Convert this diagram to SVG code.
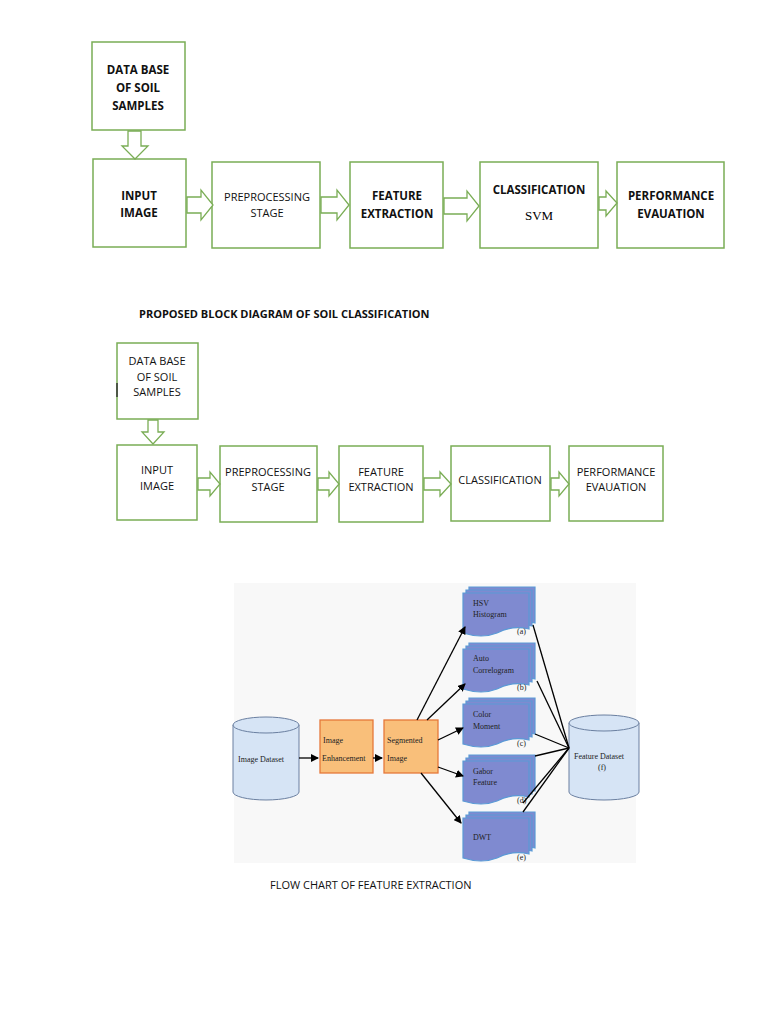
<svg xmlns="http://www.w3.org/2000/svg" width="768" height="1024" viewBox="0 0 768 1024">
<style>
.g{fill:#fff;stroke:#7aad55;stroke-width:1.5}
.ga{fill:#fff;stroke:#7aad55;stroke-width:1.3}
.t{font-family:"Open Sans","Liberation Sans",sans-serif;font-size:11px;fill:#111;text-anchor:middle}
.tb{font-family:"Open Sans","Liberation Sans",sans-serif;font-size:11.5px;font-weight:bold;fill:#111;text-anchor:middle}
.s{font-family:"Liberation Serif",serif;font-size:8px;fill:#222}
.doc{fill:#7f8ad0;stroke:#5a9ad6;stroke-width:1.2}
.cyl{fill:#d6e4f5;stroke:#6a7fa0;stroke-width:1}
.ob{fill:#f9bf7a;stroke:#e5783a;stroke-width:1.3}
.ln{stroke:#000;stroke-width:1.3;fill:none}
</style>
<defs>
<marker id="ah" markerWidth="8" markerHeight="8" refX="7" refY="4" orient="auto" markerUnits="userSpaceOnUse"><path d="M0,0 L8,4 L0,8 Z" fill="#000"/></marker>
<g id="stack">
<path class="doc" d="M6,-6 H72 V30 Q55,26 40,34 Q25,40 6,34 Z"/>
<path class="doc" d="M3,-3 H69 V33 Q52,29 37,37 Q22,43 3,37 Z"/>
<path class="doc" d="M0,0 H66 V36 Q49,32 34,40 Q19,46 0,40 Z"/>
</g>
</defs>

<!-- Section 1 -->
<g id="db1"><rect class="g" x="92" y="42" width="93" height="88"/><text class="tb" x="138" y="74">DATA BASE</text><text class="tb" x="138" y="92">OF SOIL</text><text class="tb" x="138" y="110">SAMPLES</text></g>
<g id="in1"><rect class="g" x="93" y="159" width="93" height="88"/><text class="tb" x="139" y="200">INPUT</text><text class="tb" x="139" y="217">IMAGE</text></g>
<g id="pre1"><rect class="g" x="212" y="162" width="108" height="86"/><text class="t" x="267" y="201" font-size="10">PREPROCESSING</text><text class="t" x="267" y="217" font-size="10">STAGE</text></g>
<g id="fe1"><rect class="g" x="350" y="162" width="93" height="86"/><text class="tb" x="397" y="200">FEATURE</text><text class="tb" x="397" y="218">EXTRACTION</text></g>
<g id="cl1"><rect class="g" x="480" y="162" width="118" height="86"/><text class="tb" x="539" y="194">CLASSIFICATION</text><text x="539" y="220" font-family="Liberation Serif,serif" font-size="13" text-anchor="middle">SVM</text></g>
<g id="pf1"><rect class="g" x="617" y="162" width="107" height="86"/><text class="tb" x="671" y="200">PERFORMANCE</text><text class="tb" x="671" y="218">EVAUATION</text></g>
<g id="conn1">
<path class="ga" d="M128,131 H141 V146 H148 L135,159 L122,146 H128 Z"/>
<path class="ga" d="M187,197 H201 V190 L213,205 L201,220 V213 H187 Z"/>
<path class="ga" d="M321,197 H337 V190 L349,205 L337,220 V213 H321 Z"/>
<path class="ga" d="M444,198 H467 V191 L479,206 L467,221 V214 H444 Z"/>
<path class="ga" d="M599,197 H606 V191 L617,203 L606,216 V210 H599 Z"/>
</g>
<text x="139" y="318" font-family="Open Sans,Liberation Sans,sans-serif" font-size="11px" font-weight="bold" fill="#111">PROPOSED BLOCK DIAGRAM OF SOIL CLASSIFICATION</text>

<!-- Section 2 -->
<g id="db2"><rect class="g" x="117" y="343" width="81" height="76"/><line x1="117" y1="383" x2="117" y2="397" stroke="#333" stroke-width="1.5"/><text class="t" x="157" y="365" font-size="10">DATA BASE</text><text class="t" x="157" y="381" font-size="10">OF SOIL</text><text class="t" x="157" y="396" font-size="10">SAMPLES</text></g>
<g id="in2"><rect class="g" x="117" y="445" width="80" height="75"/><text class="t" x="157" y="474" font-size="10">INPUT</text><text class="t" x="157" y="490" font-size="10">IMAGE</text></g>
<g id="pre2"><rect class="g" x="220" y="446" width="97" height="76"/><text class="t" x="268" y="476" font-size="9.5">PREPROCESSING</text><text class="t" x="268" y="491" font-size="9.5">STAGE</text></g>
<g id="fe2"><rect class="g" x="339" y="446" width="84" height="76"/><text class="t" x="381" y="476" font-size="10">FEATURE</text><text class="t" x="381" y="491" font-size="10">EXTRACTION</text></g>
<g id="cl2"><rect class="g" x="451" y="446" width="99" height="75"/><text class="t" x="500" y="484" font-size="10">CLASSIFICATION</text></g>
<g id="pf2"><rect class="g" x="569" y="446" width="94" height="75"/><text class="t" x="616" y="476" font-size="10">PERFORMANCE</text><text class="t" x="616" y="491" font-size="10">EVAUATION</text></g>
<g id="conn2">
<path class="ga" d="M148,420 H158 V432 H164 L153,444 L142,432 H148 Z"/>
<path class="ga" d="M198,478 H210 V472 L220,484 L210,496 V490 H198 Z"/>
<path class="ga" d="M318,478 H329 V472 L339,484 L329,496 V490 H318 Z"/>
<path class="ga" d="M424,478 H440 V472 L451,484 L440,496 V490 H424 Z"/>
<path class="ga" d="M551,478 H559 V472 L569,484 L559,496 V490 H551 Z"/>
</g>

<!-- Section 3 -->
<rect x="234" y="583" width="402" height="280" fill="#f8f8f8"/>
<g id="imgds"><path class="cyl" d="M233,725 V792 A33,8 0 0 0 299,792 V725 Z"/><ellipse class="cyl" cx="266" cy="725" rx="33" ry="8"/><text class="s" x="238" y="762">Image Dataset</text></g>
<g id="enh"><rect class="ob" x="320" y="720" width="53" height="53"/><text class="s" x="323" y="743">Image</text><text class="s" x="322" y="761">Enhancement</text></g>
<g id="seg"><rect class="ob" x="384" y="720" width="54" height="53"/><text class="s" x="387" y="743">Segmented</text><text class="s" x="387" y="761">Image</text></g>
<g id="hsv"><use href="#stack" x="463" y="593"/><text class="s" x="473" y="606">HSV</text><text class="s" x="473" y="617">Histogram</text><text class="s" x="517" y="634">(a)</text></g>
<g id="auto"><use href="#stack" x="463" y="649"/><text class="s" x="473" y="661">Auto</text><text class="s" x="473" y="673">Correlogram</text><text class="s" x="517" y="690">(b)</text></g>
<g id="cm"><use href="#stack" x="463" y="704"/><text class="s" x="473" y="717">Color</text><text class="s" x="473" y="729">Moment</text><text class="s" x="517" y="746">(c)</text></g>
<g id="gab"><use href="#stack" x="463" y="761"/><text class="s" x="473" y="774">Gabor</text><text class="s" x="473" y="785">Feature</text><text class="s" x="517" y="803">(d)</text></g>
<g id="dwt"><use href="#stack" x="463" y="818"/><text class="s" x="473" y="840">DWT</text><text class="s" x="517" y="860">(e)</text></g>
<g id="featds"><path class="cyl" d="M569,723 V792 A35,8 0 0 0 639,792 V723 Z"/><ellipse class="cyl" cx="604" cy="723" rx="35" ry="8"/><text class="s" x="574" y="759">Feature Dataset</text><text class="s" x="598" y="770">(f)</text></g>
<g id="conn3">
<line class="ln" x1="299" y1="758" x2="318" y2="758" stroke-width="2.2" marker-end="url(#ah)"/>
<line class="ln" x1="373" y1="758" x2="382" y2="758" stroke-width="2.2" marker-end="url(#ah)"/>
<line class="ln" x1="417" y1="720" x2="465" y2="627" marker-end="url(#ah)"/>
<line class="ln" x1="427" y1="720" x2="465" y2="684" marker-end="url(#ah)"/>
<line class="ln" x1="438" y1="740" x2="463" y2="728" marker-end="url(#ah)"/>
<line class="ln" x1="438" y1="767" x2="463" y2="776" marker-end="url(#ah)"/>
<line class="ln" x1="421" y1="773" x2="461" y2="823" marker-end="url(#ah)"/>
<line class="ln" x1="533" y1="625" x2="569" y2="748"/>
<line class="ln" x1="537" y1="681" x2="569" y2="748"/>
<line class="ln" x1="535" y1="734" x2="569" y2="748"/>
<line class="ln" x1="535" y1="756" x2="569" y2="748"/>
<line class="ln" x1="523" y1="803" x2="569" y2="748"/>
<line class="ln" x1="523" y1="812" x2="569" y2="748"/>
</g>
<text x="270" y="889" font-family="Open Sans,Liberation Sans,sans-serif" font-size="11px" fill="#111">FLOW CHART OF FEATURE EXTRACTION</text>
</svg>
